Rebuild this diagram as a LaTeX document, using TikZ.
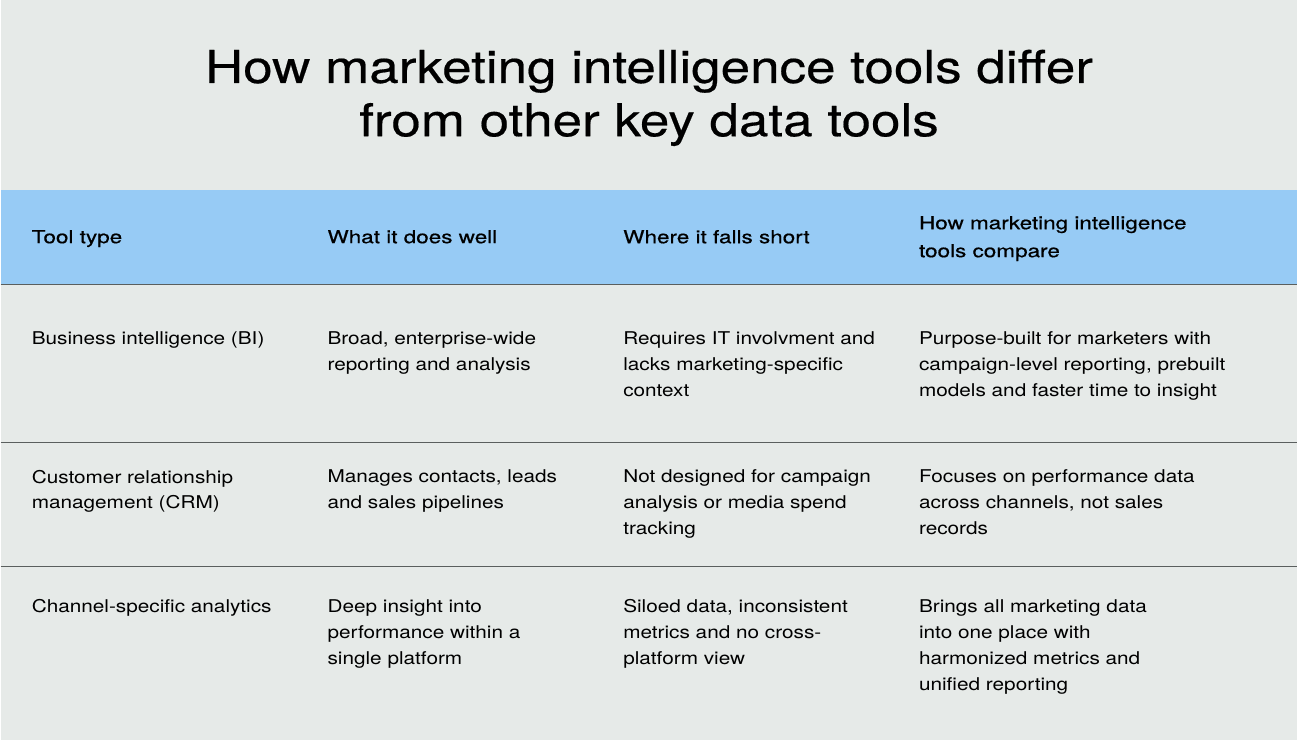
\documentclass[tikz,border=0pt]{standalone}
\usepackage{fontspec}
\setmainfont{TeX Gyre Heros}
\newfontfamily\bodyfont[FakeStretch=1.18]{TeX Gyre Heros}
\newfontfamily\headfont[FakeStretch=1.25,FakeBold=0.6]{TeX Gyre Heros}
\newfontfamily\titlefont[FakeStretch=1.17,FakeBold=0.4]{TeX Gyre Heros}
\definecolor{bgcol}{HTML}{E6EAE8}
\definecolor{headcol}{HTML}{97CBF5}
\definecolor{rulecol}{HTML}{5A5F5E}
\begin{document}
\begin{tikzpicture}[x=0.75pt,y=-0.75pt]
\tikzstyle{cell}=[anchor=north west,align=left,inner sep=0pt,font=\bodyfont\fontsize{13.2}{19.5}\selectfont]
\tikzstyle{head}=[cell,font=\headfont\fontsize{13.5}{21}\selectfont]
\tikzstyle{sep}=[rulecol,line width=0.8pt]

% background and header band
\fill [bgcol] (0,0) rectangle (1298,741);
\fill [headcol] (0,190) rectangle (1298,285);
\node (title) at (649,98) [align=center,inner sep=0pt,font=\titlefont\fontsize{34}{40}\selectfont] {How marketing intelligence tools differ\\from other key data tools};

% header
\node (h1) at (31,230) [head] {Tool type};
\node (h2) at (327,230) [head] {What it does well};
\node (h3) at (623,230) [head] {Where it falls short};
\node (h4) at (919,216) [head] {How marketing intelligence\\tools compare};

\draw [sep] (0,285) -- (1298,285);
\draw [sep] (0,443) -- (1298,443);
\draw [sep] (0,567) -- (1298,567);

% row 1
\node (r1-1) at (31,332) [cell] {Business intelligence (BI)};
\node (r1-2) at (327,332) [cell] {Broad, enterprise-wide\\reporting and analysis};
\node (r1-3) at (623,332) [cell] {Requires IT involvment and\\lacks marketing-specific\\context};
\node (r1-4) at (919,332) [cell] {Purpose-built for marketers with\\campaign-level reporting, prebuilt\\models and faster time to insight};

% row 2
\node (r2-1) at (31,470) [cell] {Customer relationship\\management (CRM)};
\node (r2-2) at (327,470) [cell] {Manages contacts, leads\\and sales pipelines};
\node (r2-3) at (623,470) [cell] {Not designed for campaign\\analysis or media spend\\tracking};
\node (r2-4) at (919,470) [cell] {Focuses on performance data\\across channels, not sales\\records};

% row 3
\node (r3-1) at (31,600) [cell] {Channel-specific analytics};
\node (r3-2) at (327,600) [cell] {Deep insight into\\performance within a\\single platform};
\node (r3-3) at (623,600) [cell] {Siloed data, inconsistent\\metrics and no cross-\\platform view};
\node (r3-4) at (919,600) [cell] {Brings all marketing data\\into one place with\\harmonized metrics and\\unified reporting};
\end{tikzpicture}
\end{document}
